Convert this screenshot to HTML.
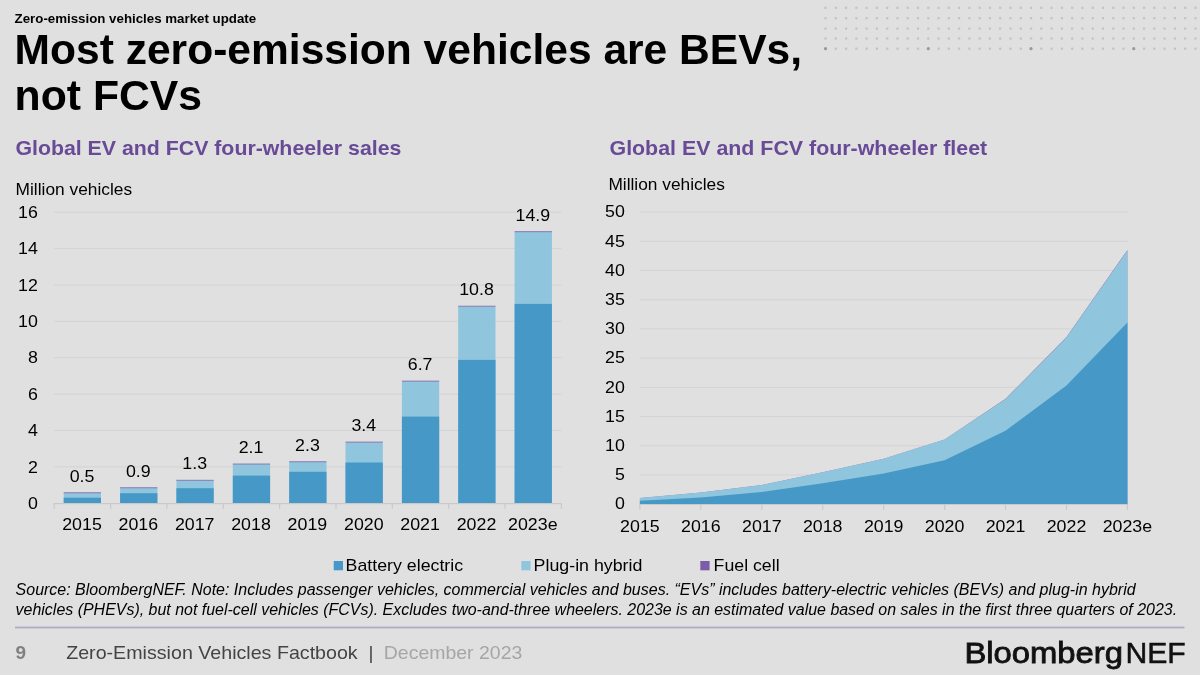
<!DOCTYPE html>
<html lang="en"><head><meta charset="utf-8"><title>Most zero-emission vehicles are BEVs, not FCVs</title>
<style>
html,body{margin:0;padding:0;background:#e0e0e0;}
body{width:1200px;height:675px;overflow:hidden;position:relative;}
svg{display:block;position:absolute;left:0;top:0;filter:blur(0.45px);}
text{font-family:"Liberation Sans",Arial,Helvetica,sans-serif;fill:#000;}
.t17{font-size:17px;}
.mid{text-anchor:middle;}
.end{text-anchor:end;}
</style></head><body>
<svg width="1200" height="675" viewBox="0 0 1200 675">
<rect x="0" y="0" width="1200" height="675" fill="#e0e0e0"/>
<g fill="#c3c3c3">
<rect x="824.4" y="6.7" width="2.2" height="2.2"/>
<rect x="834.7" y="6.7" width="2.2" height="2.2"/>
<rect x="845.0" y="6.7" width="2.2" height="2.2"/>
<rect x="855.3" y="6.7" width="2.2" height="2.2"/>
<rect x="865.5" y="6.7" width="2.2" height="2.2"/>
<rect x="875.8" y="6.7" width="2.2" height="2.2"/>
<rect x="886.1" y="6.7" width="2.2" height="2.2"/>
<rect x="896.4" y="6.7" width="2.2" height="2.2"/>
<rect x="906.6" y="6.7" width="2.2" height="2.2"/>
<rect x="916.9" y="6.7" width="2.2" height="2.2"/>
<rect x="927.2" y="6.7" width="2.2" height="2.2"/>
<rect x="937.5" y="6.7" width="2.2" height="2.2"/>
<rect x="947.7" y="6.7" width="2.2" height="2.2"/>
<rect x="958.0" y="6.7" width="2.2" height="2.2"/>
<rect x="968.3" y="6.7" width="2.2" height="2.2"/>
<rect x="978.6" y="6.7" width="2.2" height="2.2"/>
<rect x="988.8" y="6.7" width="2.2" height="2.2"/>
<rect x="999.1" y="6.7" width="2.2" height="2.2"/>
<rect x="1009.4" y="6.7" width="2.2" height="2.2"/>
<rect x="1019.7" y="6.7" width="2.2" height="2.2"/>
<rect x="1030.0" y="6.7" width="2.2" height="2.2"/>
<rect x="1040.2" y="6.7" width="2.2" height="2.2"/>
<rect x="1050.5" y="6.7" width="2.2" height="2.2"/>
<rect x="1060.8" y="6.7" width="2.2" height="2.2"/>
<rect x="1071.1" y="6.7" width="2.2" height="2.2"/>
<rect x="1081.3" y="6.7" width="2.2" height="2.2"/>
<rect x="1091.6" y="6.7" width="2.2" height="2.2"/>
<rect x="1101.9" y="6.7" width="2.2" height="2.2"/>
<rect x="1112.2" y="6.7" width="2.2" height="2.2"/>
<rect x="1122.4" y="6.7" width="2.2" height="2.2"/>
<rect x="1132.7" y="6.7" width="2.2" height="2.2"/>
<rect x="1143.0" y="6.7" width="2.2" height="2.2"/>
<rect x="1153.2" y="6.7" width="2.2" height="2.2"/>
<rect x="1163.5" y="6.7" width="2.2" height="2.2"/>
<rect x="1173.8" y="6.7" width="2.2" height="2.2"/>
<rect x="1184.1" y="6.7" width="2.2" height="2.2"/>
<rect x="1194.4" y="6.7" width="2.2" height="2.2"/>
<rect x="824.4" y="17.1" width="2.2" height="2.2"/>
<rect x="834.7" y="17.1" width="2.2" height="2.2"/>
<rect x="845.0" y="17.1" width="2.2" height="2.2"/>
<rect x="855.3" y="17.1" width="2.2" height="2.2"/>
<rect x="865.5" y="17.1" width="2.2" height="2.2"/>
<rect x="875.8" y="17.1" width="2.2" height="2.2"/>
<rect x="886.1" y="17.1" width="2.2" height="2.2"/>
<rect x="896.4" y="17.1" width="2.2" height="2.2"/>
<rect x="906.6" y="17.1" width="2.2" height="2.2"/>
<rect x="916.9" y="17.1" width="2.2" height="2.2"/>
<rect x="927.2" y="17.1" width="2.2" height="2.2"/>
<rect x="937.5" y="17.1" width="2.2" height="2.2"/>
<rect x="947.7" y="17.1" width="2.2" height="2.2"/>
<rect x="958.0" y="17.1" width="2.2" height="2.2"/>
<rect x="968.3" y="17.1" width="2.2" height="2.2"/>
<rect x="978.6" y="17.1" width="2.2" height="2.2"/>
<rect x="988.8" y="17.1" width="2.2" height="2.2"/>
<rect x="999.1" y="17.1" width="2.2" height="2.2"/>
<rect x="1009.4" y="17.1" width="2.2" height="2.2"/>
<rect x="1019.7" y="17.1" width="2.2" height="2.2"/>
<rect x="1030.0" y="17.1" width="2.2" height="2.2"/>
<rect x="1040.2" y="17.1" width="2.2" height="2.2"/>
<rect x="1050.5" y="17.1" width="2.2" height="2.2"/>
<rect x="1060.8" y="17.1" width="2.2" height="2.2"/>
<rect x="1071.1" y="17.1" width="2.2" height="2.2"/>
<rect x="1081.3" y="17.1" width="2.2" height="2.2"/>
<rect x="1091.6" y="17.1" width="2.2" height="2.2"/>
<rect x="1101.9" y="17.1" width="2.2" height="2.2"/>
<rect x="1112.2" y="17.1" width="2.2" height="2.2"/>
<rect x="1122.4" y="17.1" width="2.2" height="2.2"/>
<rect x="1132.7" y="17.1" width="2.2" height="2.2"/>
<rect x="1143.0" y="17.1" width="2.2" height="2.2"/>
<rect x="1153.2" y="17.1" width="2.2" height="2.2"/>
<rect x="1163.5" y="17.1" width="2.2" height="2.2"/>
<rect x="1173.8" y="17.1" width="2.2" height="2.2"/>
<rect x="1184.1" y="17.1" width="2.2" height="2.2"/>
<rect x="1194.4" y="17.1" width="2.2" height="2.2"/>
<rect x="824.4" y="27.5" width="2.2" height="2.2"/>
<rect x="834.7" y="27.5" width="2.2" height="2.2"/>
<rect x="845.0" y="27.5" width="2.2" height="2.2"/>
<rect x="855.3" y="27.5" width="2.2" height="2.2"/>
<rect x="865.5" y="27.5" width="2.2" height="2.2"/>
<rect x="875.8" y="27.5" width="2.2" height="2.2"/>
<rect x="886.1" y="27.5" width="2.2" height="2.2"/>
<rect x="896.4" y="27.5" width="2.2" height="2.2"/>
<rect x="906.6" y="27.5" width="2.2" height="2.2"/>
<rect x="916.9" y="27.5" width="2.2" height="2.2"/>
<rect x="927.2" y="27.5" width="2.2" height="2.2"/>
<rect x="937.5" y="27.5" width="2.2" height="2.2"/>
<rect x="947.7" y="27.5" width="2.2" height="2.2"/>
<rect x="958.0" y="27.5" width="2.2" height="2.2"/>
<rect x="968.3" y="27.5" width="2.2" height="2.2"/>
<rect x="978.6" y="27.5" width="2.2" height="2.2"/>
<rect x="988.8" y="27.5" width="2.2" height="2.2"/>
<rect x="999.1" y="27.5" width="2.2" height="2.2"/>
<rect x="1009.4" y="27.5" width="2.2" height="2.2"/>
<rect x="1019.7" y="27.5" width="2.2" height="2.2"/>
<rect x="1030.0" y="27.5" width="2.2" height="2.2"/>
<rect x="1040.2" y="27.5" width="2.2" height="2.2"/>
<rect x="1050.5" y="27.5" width="2.2" height="2.2"/>
<rect x="1060.8" y="27.5" width="2.2" height="2.2"/>
<rect x="1071.1" y="27.5" width="2.2" height="2.2"/>
<rect x="1081.3" y="27.5" width="2.2" height="2.2"/>
<rect x="1091.6" y="27.5" width="2.2" height="2.2"/>
<rect x="1101.9" y="27.5" width="2.2" height="2.2"/>
<rect x="1112.2" y="27.5" width="2.2" height="2.2"/>
<rect x="1122.4" y="27.5" width="2.2" height="2.2"/>
<rect x="1132.7" y="27.5" width="2.2" height="2.2"/>
<rect x="1143.0" y="27.5" width="2.2" height="2.2"/>
<rect x="1153.2" y="27.5" width="2.2" height="2.2"/>
<rect x="1163.5" y="27.5" width="2.2" height="2.2"/>
<rect x="1173.8" y="27.5" width="2.2" height="2.2"/>
<rect x="1184.1" y="27.5" width="2.2" height="2.2"/>
<rect x="1194.4" y="27.5" width="2.2" height="2.2"/>
<rect x="824.4" y="37.4" width="2.2" height="2.2"/>
<rect x="834.7" y="37.4" width="2.2" height="2.2"/>
<rect x="845.0" y="37.4" width="2.2" height="2.2"/>
<rect x="855.3" y="37.4" width="2.2" height="2.2"/>
<rect x="865.5" y="37.4" width="2.2" height="2.2"/>
<rect x="875.8" y="37.4" width="2.2" height="2.2"/>
<rect x="886.1" y="37.4" width="2.2" height="2.2"/>
<rect x="896.4" y="37.4" width="2.2" height="2.2"/>
<rect x="906.6" y="37.4" width="2.2" height="2.2"/>
<rect x="916.9" y="37.4" width="2.2" height="2.2"/>
<rect x="927.2" y="37.4" width="2.2" height="2.2"/>
<rect x="937.5" y="37.4" width="2.2" height="2.2"/>
<rect x="947.7" y="37.4" width="2.2" height="2.2"/>
<rect x="958.0" y="37.4" width="2.2" height="2.2"/>
<rect x="968.3" y="37.4" width="2.2" height="2.2"/>
<rect x="978.6" y="37.4" width="2.2" height="2.2"/>
<rect x="988.8" y="37.4" width="2.2" height="2.2"/>
<rect x="999.1" y="37.4" width="2.2" height="2.2"/>
<rect x="1009.4" y="37.4" width="2.2" height="2.2"/>
<rect x="1019.7" y="37.4" width="2.2" height="2.2"/>
<rect x="1030.0" y="37.4" width="2.2" height="2.2"/>
<rect x="1040.2" y="37.4" width="2.2" height="2.2"/>
<rect x="1050.5" y="37.4" width="2.2" height="2.2"/>
<rect x="1060.8" y="37.4" width="2.2" height="2.2"/>
<rect x="1071.1" y="37.4" width="2.2" height="2.2"/>
<rect x="1081.3" y="37.4" width="2.2" height="2.2"/>
<rect x="1091.6" y="37.4" width="2.2" height="2.2"/>
<rect x="1101.9" y="37.4" width="2.2" height="2.2"/>
<rect x="1112.2" y="37.4" width="2.2" height="2.2"/>
<rect x="1122.4" y="37.4" width="2.2" height="2.2"/>
<rect x="1132.7" y="37.4" width="2.2" height="2.2"/>
<rect x="1143.0" y="37.4" width="2.2" height="2.2"/>
<rect x="1153.2" y="37.4" width="2.2" height="2.2"/>
<rect x="1163.5" y="37.4" width="2.2" height="2.2"/>
<rect x="1173.8" y="37.4" width="2.2" height="2.2"/>
<rect x="1184.1" y="37.4" width="2.2" height="2.2"/>
<rect x="1194.4" y="37.4" width="2.2" height="2.2"/>
<circle cx="825.5" cy="48.7" r="1.6" fill="#999999"/>
<rect x="834.7" y="47.6" width="2.2" height="2.2"/>
<rect x="845.0" y="47.6" width="2.2" height="2.2"/>
<rect x="855.3" y="47.6" width="2.2" height="2.2"/>
<rect x="865.5" y="47.6" width="2.2" height="2.2"/>
<rect x="875.8" y="47.6" width="2.2" height="2.2"/>
<rect x="886.1" y="47.6" width="2.2" height="2.2"/>
<rect x="896.4" y="47.6" width="2.2" height="2.2"/>
<rect x="906.6" y="47.6" width="2.2" height="2.2"/>
<rect x="916.9" y="47.6" width="2.2" height="2.2"/>
<circle cx="928.3" cy="48.7" r="1.6" fill="#999999"/>
<rect x="937.5" y="47.6" width="2.2" height="2.2"/>
<rect x="947.7" y="47.6" width="2.2" height="2.2"/>
<rect x="958.0" y="47.6" width="2.2" height="2.2"/>
<rect x="968.3" y="47.6" width="2.2" height="2.2"/>
<rect x="978.6" y="47.6" width="2.2" height="2.2"/>
<rect x="988.8" y="47.6" width="2.2" height="2.2"/>
<rect x="999.1" y="47.6" width="2.2" height="2.2"/>
<rect x="1009.4" y="47.6" width="2.2" height="2.2"/>
<rect x="1019.7" y="47.6" width="2.2" height="2.2"/>
<circle cx="1031.0" cy="48.7" r="1.6" fill="#999999"/>
<rect x="1040.2" y="47.6" width="2.2" height="2.2"/>
<rect x="1050.5" y="47.6" width="2.2" height="2.2"/>
<rect x="1060.8" y="47.6" width="2.2" height="2.2"/>
<rect x="1071.1" y="47.6" width="2.2" height="2.2"/>
<rect x="1081.3" y="47.6" width="2.2" height="2.2"/>
<rect x="1091.6" y="47.6" width="2.2" height="2.2"/>
<rect x="1101.9" y="47.6" width="2.2" height="2.2"/>
<rect x="1112.2" y="47.6" width="2.2" height="2.2"/>
<rect x="1122.4" y="47.6" width="2.2" height="2.2"/>
<circle cx="1133.8" cy="48.7" r="1.6" fill="#999999"/>
<rect x="1143.0" y="47.6" width="2.2" height="2.2"/>
<rect x="1153.2" y="47.6" width="2.2" height="2.2"/>
<rect x="1163.5" y="47.6" width="2.2" height="2.2"/>
<rect x="1173.8" y="47.6" width="2.2" height="2.2"/>
<rect x="1184.1" y="47.6" width="2.2" height="2.2"/>
<rect x="1194.4" y="47.6" width="2.2" height="2.2"/>
</g>
<text x="14.6" y="23.2" font-size="12.5" textLength="241.5" lengthAdjust="spacingAndGlyphs" font-weight="bold">Zero-emission vehicles market update</text>
<text x="14.6" y="64.2" font-size="42.3" textLength="787.5" lengthAdjust="spacingAndGlyphs" font-weight="bold" style="fill:#000">Most zero-emission vehicles are BEVs,</text>
<text x="14.6" y="110.0" font-size="42.3" textLength="187.5" lengthAdjust="spacingAndGlyphs" font-weight="bold" style="fill:#000">not FCVs</text>
<text x="15.4" y="155.2" font-size="20.8" textLength="386.0" lengthAdjust="spacingAndGlyphs" font-weight="bold" style="fill:#684a96">Global EV and FCV four-wheeler sales</text>
<text x="609.5" y="155.2" font-size="20.8" textLength="377.7" lengthAdjust="spacingAndGlyphs" font-weight="bold" style="fill:#684a96">Global EV and FCV four-wheeler fleet</text>
<text x="15.6" y="195.4" font-size="17.2" textLength="116.5" lengthAdjust="spacingAndGlyphs" >Million vehicles</text>
<text x="608.4" y="189.8" font-size="17.2" textLength="116.5" lengthAdjust="spacingAndGlyphs" >Million vehicles</text>
<line x1="54.2" x2="561.4" y1="466.91" y2="466.91" stroke="#d3d3d3" stroke-width="1"/>
<line x1="54.2" x2="561.4" y1="430.52" y2="430.52" stroke="#d3d3d3" stroke-width="1"/>
<line x1="54.2" x2="561.4" y1="394.14" y2="394.14" stroke="#d3d3d3" stroke-width="1"/>
<line x1="54.2" x2="561.4" y1="357.75" y2="357.75" stroke="#d3d3d3" stroke-width="1"/>
<line x1="54.2" x2="561.4" y1="321.36" y2="321.36" stroke="#d3d3d3" stroke-width="1"/>
<line x1="54.2" x2="561.4" y1="284.98" y2="284.98" stroke="#d3d3d3" stroke-width="1"/>
<line x1="54.2" x2="561.4" y1="248.59" y2="248.59" stroke="#d3d3d3" stroke-width="1"/>
<line x1="54.2" x2="561.4" y1="212.20" y2="212.20" stroke="#d3d3d3" stroke-width="1"/>
<g transform="translate(37.8,508.9) scale(1.035,1)"><text font-size="17.2" text-anchor="end">0</text></g>
<g transform="translate(37.8,472.5) scale(1.035,1)"><text font-size="17.2" text-anchor="end">2</text></g>
<g transform="translate(37.8,436.1) scale(1.035,1)"><text font-size="17.2" text-anchor="end">4</text></g>
<g transform="translate(37.8,399.7) scale(1.035,1)"><text font-size="17.2" text-anchor="end">6</text></g>
<g transform="translate(37.8,363.4) scale(1.035,1)"><text font-size="17.2" text-anchor="end">8</text></g>
<g transform="translate(37.8,327.0) scale(1.035,1)"><text font-size="17.2" text-anchor="end">10</text></g>
<g transform="translate(37.8,290.6) scale(1.035,1)"><text font-size="17.2" text-anchor="end">12</text></g>
<g transform="translate(37.8,254.2) scale(1.035,1)"><text font-size="17.2" text-anchor="end">14</text></g>
<g transform="translate(37.8,217.8) scale(1.035,1)"><text font-size="17.2" text-anchor="end">16</text></g>
<rect x="63.7" y="492.7" width="37.3" height="10.6" fill="#90c5de"/>
<rect x="63.7" y="492.2" width="37.3" height="1.1" fill="#8f7fb8"/>
<rect x="63.7" y="497.7" width="37.3" height="5.6" fill="#4698c6"/>
<g transform="translate(82.0,481.8) scale(1.035,1)"><text font-size="17.2" text-anchor="middle">0.5</text></g>
<g transform="translate(82.0,530.2) scale(1.035,1)"><text font-size="17.2" text-anchor="middle">2015</text></g>
<rect x="120.1" y="487.7" width="37.3" height="15.6" fill="#90c5de"/>
<rect x="120.1" y="487.2" width="37.3" height="1.1" fill="#8f7fb8"/>
<rect x="120.1" y="493.2" width="37.3" height="10.1" fill="#4698c6"/>
<g transform="translate(138.3,476.8) scale(1.035,1)"><text font-size="17.2" text-anchor="middle">0.9</text></g>
<g transform="translate(138.3,530.2) scale(1.035,1)"><text font-size="17.2" text-anchor="middle">2016</text></g>
<rect x="176.4" y="480.3" width="37.3" height="23.0" fill="#90c5de"/>
<rect x="176.4" y="479.8" width="37.3" height="1.1" fill="#8f7fb8"/>
<rect x="176.4" y="488.2" width="37.3" height="15.1" fill="#4698c6"/>
<g transform="translate(194.7,469.4) scale(1.035,1)"><text font-size="17.2" text-anchor="middle">1.3</text></g>
<g transform="translate(194.7,530.2) scale(1.035,1)"><text font-size="17.2" text-anchor="middle">2017</text></g>
<rect x="232.8" y="464.0" width="37.3" height="39.3" fill="#90c5de"/>
<rect x="232.8" y="463.5" width="37.3" height="1.1" fill="#8f7fb8"/>
<rect x="232.8" y="475.6" width="37.3" height="27.7" fill="#4698c6"/>
<g transform="translate(251.0,453.1) scale(1.035,1)"><text font-size="17.2" text-anchor="middle">2.1</text></g>
<g transform="translate(251.0,530.2) scale(1.035,1)"><text font-size="17.2" text-anchor="middle">2018</text></g>
<rect x="289.2" y="461.7" width="37.3" height="41.6" fill="#90c5de"/>
<rect x="289.2" y="461.2" width="37.3" height="1.1" fill="#8f7fb8"/>
<rect x="289.2" y="471.8" width="37.3" height="31.5" fill="#4698c6"/>
<g transform="translate(307.4,450.8) scale(1.035,1)"><text font-size="17.2" text-anchor="middle">2.3</text></g>
<g transform="translate(307.4,530.2) scale(1.035,1)"><text font-size="17.2" text-anchor="middle">2019</text></g>
<rect x="345.5" y="442.1" width="37.3" height="61.2" fill="#90c5de"/>
<rect x="345.5" y="441.6" width="37.3" height="1.1" fill="#8f7fb8"/>
<rect x="345.5" y="462.5" width="37.3" height="40.8" fill="#4698c6"/>
<g transform="translate(363.8,431.2) scale(1.035,1)"><text font-size="17.2" text-anchor="middle">3.4</text></g>
<g transform="translate(363.8,530.2) scale(1.035,1)"><text font-size="17.2" text-anchor="middle">2020</text></g>
<rect x="401.9" y="381.1" width="37.3" height="122.2" fill="#90c5de"/>
<rect x="401.9" y="380.6" width="37.3" height="1.1" fill="#8f7fb8"/>
<rect x="401.9" y="416.6" width="37.3" height="86.7" fill="#4698c6"/>
<g transform="translate(420.1,370.2) scale(1.035,1)"><text font-size="17.2" text-anchor="middle">6.7</text></g>
<g transform="translate(420.1,530.2) scale(1.035,1)"><text font-size="17.2" text-anchor="middle">2021</text></g>
<rect x="458.2" y="306.2" width="37.3" height="197.1" fill="#90c5de"/>
<rect x="458.2" y="305.7" width="37.3" height="1.1" fill="#8f7fb8"/>
<rect x="458.2" y="359.9" width="37.3" height="143.4" fill="#4698c6"/>
<g transform="translate(476.5,295.3) scale(1.035,1)"><text font-size="17.2" text-anchor="middle">10.8</text></g>
<g transform="translate(476.5,530.2) scale(1.035,1)"><text font-size="17.2" text-anchor="middle">2022</text></g>
<rect x="514.6" y="231.6" width="37.3" height="271.7" fill="#90c5de"/>
<rect x="514.6" y="231.1" width="37.3" height="1.1" fill="#8f7fb8"/>
<rect x="514.6" y="303.9" width="37.3" height="199.4" fill="#4698c6"/>
<g transform="translate(532.8,220.7) scale(1.035,1)"><text font-size="17.2" text-anchor="middle">14.9</text></g>
<g transform="translate(532.8,530.2) scale(1.035,1)"><text font-size="17.2" text-anchor="middle">2023e</text></g>
<line x1="54.2" x2="561.4" y1="503.6" y2="503.6" stroke="#c9c9c9" stroke-width="1.2"/>
<line x1="54.2" x2="54.2" y1="503.3" y2="508.8" stroke="#c9c9c9" stroke-width="1.2"/>
<line x1="110.6" x2="110.6" y1="503.3" y2="508.8" stroke="#c9c9c9" stroke-width="1.2"/>
<line x1="166.9" x2="166.9" y1="503.3" y2="508.8" stroke="#c9c9c9" stroke-width="1.2"/>
<line x1="223.3" x2="223.3" y1="503.3" y2="508.8" stroke="#c9c9c9" stroke-width="1.2"/>
<line x1="279.6" x2="279.6" y1="503.3" y2="508.8" stroke="#c9c9c9" stroke-width="1.2"/>
<line x1="336.0" x2="336.0" y1="503.3" y2="508.8" stroke="#c9c9c9" stroke-width="1.2"/>
<line x1="392.3" x2="392.3" y1="503.3" y2="508.8" stroke="#c9c9c9" stroke-width="1.2"/>
<line x1="448.7" x2="448.7" y1="503.3" y2="508.8" stroke="#c9c9c9" stroke-width="1.2"/>
<line x1="505.0" x2="505.0" y1="503.3" y2="508.8" stroke="#c9c9c9" stroke-width="1.2"/>
<line x1="561.4" x2="561.4" y1="503.3" y2="508.8" stroke="#c9c9c9" stroke-width="1.2"/>
<line x1="639.9" x2="1127.4" y1="474.99" y2="474.99" stroke="#d3d3d3" stroke-width="1"/>
<line x1="639.9" x2="1127.4" y1="445.78" y2="445.78" stroke="#d3d3d3" stroke-width="1"/>
<line x1="639.9" x2="1127.4" y1="416.57" y2="416.57" stroke="#d3d3d3" stroke-width="1"/>
<line x1="639.9" x2="1127.4" y1="387.36" y2="387.36" stroke="#d3d3d3" stroke-width="1"/>
<line x1="639.9" x2="1127.4" y1="358.15" y2="358.15" stroke="#d3d3d3" stroke-width="1"/>
<line x1="639.9" x2="1127.4" y1="328.94" y2="328.94" stroke="#d3d3d3" stroke-width="1"/>
<line x1="639.9" x2="1127.4" y1="299.73" y2="299.73" stroke="#d3d3d3" stroke-width="1"/>
<line x1="639.9" x2="1127.4" y1="270.52" y2="270.52" stroke="#d3d3d3" stroke-width="1"/>
<line x1="639.9" x2="1127.4" y1="241.31" y2="241.31" stroke="#d3d3d3" stroke-width="1"/>
<line x1="639.9" x2="1127.4" y1="212.10" y2="212.10" stroke="#d3d3d3" stroke-width="1"/>
<g transform="translate(624.8,509.4) scale(1.035,1)"><text font-size="17.2" text-anchor="end">0</text></g>
<g transform="translate(624.8,480.2) scale(1.035,1)"><text font-size="17.2" text-anchor="end">5</text></g>
<g transform="translate(624.8,451.0) scale(1.035,1)"><text font-size="17.2" text-anchor="end">10</text></g>
<g transform="translate(624.8,421.8) scale(1.035,1)"><text font-size="17.2" text-anchor="end">15</text></g>
<g transform="translate(624.8,392.6) scale(1.035,1)"><text font-size="17.2" text-anchor="end">20</text></g>
<g transform="translate(624.8,363.3) scale(1.035,1)"><text font-size="17.2" text-anchor="end">25</text></g>
<g transform="translate(624.8,334.1) scale(1.035,1)"><text font-size="17.2" text-anchor="end">30</text></g>
<g transform="translate(624.8,304.9) scale(1.035,1)"><text font-size="17.2" text-anchor="end">35</text></g>
<g transform="translate(624.8,275.7) scale(1.035,1)"><text font-size="17.2" text-anchor="end">40</text></g>
<g transform="translate(624.8,246.5) scale(1.035,1)"><text font-size="17.2" text-anchor="end">45</text></g>
<g transform="translate(624.8,217.3) scale(1.035,1)"><text font-size="17.2" text-anchor="end">50</text></g>
<polygon points="639.9,498.0 700.8,492.5 761.8,484.9 822.7,472.2 883.7,458.7 944.6,439.4 1005.5,398.8 1066.5,336.9 1127.4,249.9 1127.4,504.7 639.9,504.7" fill="#8f7fb8"/>
<polygon points="639.9,498.0 700.8,492.5 761.8,484.9 822.7,472.3 883.7,458.8 944.6,439.6 1005.5,399.3 1066.5,337.5 1127.4,250.6 1127.4,504.7 639.9,504.7" fill="#90c5de"/>
<polygon points="639.9,500.8 700.8,497.5 761.8,492.0 822.7,483.2 883.7,473.6 944.6,460.2 1005.5,430.8 1066.5,385.4 1127.4,322.4 1127.4,504.7 639.9,504.7" fill="#4698c6"/>
<line x1="639.9" x2="1127.4" y1="504.5" y2="504.5" stroke="#c9c9c9" stroke-width="1.2"/>
<line x1="639.9" x2="639.9" y1="504.2" y2="509.7" stroke="#c9c9c9" stroke-width="1.2"/>
<g transform="translate(639.9,532.0) scale(1.035,1)"><text font-size="17.2" text-anchor="middle">2015</text></g>
<line x1="700.8" x2="700.8" y1="504.2" y2="509.7" stroke="#c9c9c9" stroke-width="1.2"/>
<g transform="translate(700.8,532.0) scale(1.035,1)"><text font-size="17.2" text-anchor="middle">2016</text></g>
<line x1="761.8" x2="761.8" y1="504.2" y2="509.7" stroke="#c9c9c9" stroke-width="1.2"/>
<g transform="translate(761.8,532.0) scale(1.035,1)"><text font-size="17.2" text-anchor="middle">2017</text></g>
<line x1="822.7" x2="822.7" y1="504.2" y2="509.7" stroke="#c9c9c9" stroke-width="1.2"/>
<g transform="translate(822.7,532.0) scale(1.035,1)"><text font-size="17.2" text-anchor="middle">2018</text></g>
<line x1="883.7" x2="883.7" y1="504.2" y2="509.7" stroke="#c9c9c9" stroke-width="1.2"/>
<g transform="translate(883.7,532.0) scale(1.035,1)"><text font-size="17.2" text-anchor="middle">2019</text></g>
<line x1="944.6" x2="944.6" y1="504.2" y2="509.7" stroke="#c9c9c9" stroke-width="1.2"/>
<g transform="translate(944.6,532.0) scale(1.035,1)"><text font-size="17.2" text-anchor="middle">2020</text></g>
<line x1="1005.5" x2="1005.5" y1="504.2" y2="509.7" stroke="#c9c9c9" stroke-width="1.2"/>
<g transform="translate(1005.5,532.0) scale(1.035,1)"><text font-size="17.2" text-anchor="middle">2021</text></g>
<line x1="1066.5" x2="1066.5" y1="504.2" y2="509.7" stroke="#c9c9c9" stroke-width="1.2"/>
<g transform="translate(1066.5,532.0) scale(1.035,1)"><text font-size="17.2" text-anchor="middle">2022</text></g>
<line x1="1127.4" x2="1127.4" y1="504.2" y2="509.7" stroke="#c9c9c9" stroke-width="1.2"/>
<g transform="translate(1127.4,532.0) scale(1.035,1)"><text font-size="17.2" text-anchor="middle">2023e</text></g>
<rect x="333.7" y="561" width="9.3" height="9.3" fill="#4698c6"/>
<text x="345.6" y="570.8" font-size="17" textLength="117.5" lengthAdjust="spacingAndGlyphs" >Battery electric</text>
<rect x="521.3" y="561" width="9.3" height="9.3" fill="#90c5de"/>
<text x="533.6" y="570.8" font-size="17" textLength="108.8" lengthAdjust="spacingAndGlyphs" >Plug-in hybrid</text>
<rect x="700.3" y="561" width="9.3" height="9.3" fill="#7b5ea7"/>
<text x="713.6" y="570.8" font-size="17" textLength="66.0" lengthAdjust="spacingAndGlyphs" >Fuel cell</text>
<text x="15.6" y="595.4" font-size="15.8" textLength="1120.0" lengthAdjust="spacingAndGlyphs" font-style="italic">Source: BloombergNEF. Note: Includes passenger vehicles, commercial vehicles and buses. “EVs” includes battery-electric vehicles (BEVs) and plug-in hybrid</text>
<text x="15.6" y="614.5" font-size="15.8" textLength="1161.5" lengthAdjust="spacingAndGlyphs" font-style="italic">vehicles (PHEVs), but not fuel-cell vehicles (FCVs). Excludes two-and-three wheelers. 2023e is an estimated value based on sales in the first three quarters of 2023.</text>
<rect x="15" y="626.6" width="1169.5" height="1.8" fill="#b3a9cb"/>
<text x="15.4" y="659.2" font-size="19" font-weight="bold" style="fill:#808080">9</text>
<text x="66.2" y="659.2" font-size="19" textLength="291.5" lengthAdjust="spacingAndGlyphs" style="fill:#444">Zero-Emission Vehicles Factbook</text>
<text x="368.5" y="658.7" font-size="19" style="fill:#444">|</text>
<text x="383.8" y="659.2" font-size="19" textLength="138.5" lengthAdjust="spacingAndGlyphs" style="fill:#a6a6a6">December 2023</text>
<text x="964.4" y="662.6" font-size="30" textLength="158.6" lengthAdjust="spacingAndGlyphs" style="fill:#111;stroke:#111;stroke-width:0.85px">Bloomberg</text>
<text x="1125.4" y="662.6" font-size="30" textLength="60.4" lengthAdjust="spacingAndGlyphs" style="fill:#111;stroke:#111;stroke-width:0.5px">NEF</text>
</svg></body></html>
